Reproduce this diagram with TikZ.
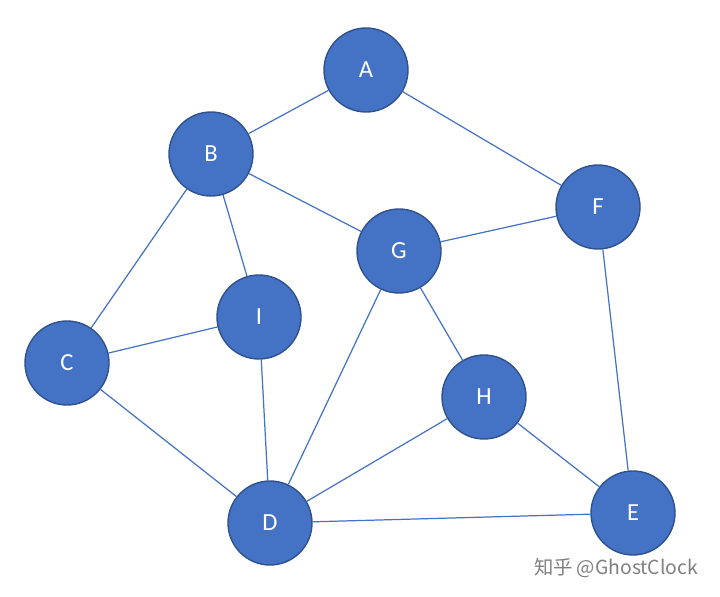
\documentclass[tikz,border=0pt]{standalone}
\usepackage{fontspec}
\setmainfont{Carlito}
\newfontfamily\cjk{Noto Sans CJK SC}
\definecolor{nodeblue}{HTML}{4472C4}
\definecolor{rimblue}{HTML}{2F528F}

\begin{document}
\begin{tikzpicture}[x=0.02cm, y=-0.02cm,
  vertex/.style={circle, fill=nodeblue, draw=rimblue, line width=0.8pt,
    minimum size=1.68cm, inner sep=0pt, text=white, font=\fontsize{14}{14}\selectfont},
  edge/.style={draw=nodeblue, line width=0.7pt}]
  \useasboundingbox (0,0) rectangle (720,597);
  \node[vertex] (A) at (366,70) {A};
  \node[vertex] (B) at (211,154) {B};
  \node[vertex] (F) at (598,207) {F};
  \node[vertex] (G) at (399,251) {G};
  \node[vertex] (I) at (259,317) {I};
  \node[vertex] (C) at (67,363) {C};
  \node[vertex] (H) at (484,397) {H};
  \node[vertex] (D) at (270,523) {D};
  \node[vertex] (E) at (633,513) {E};
  \foreach \u/\v in {A/B, A/F, B/G, B/I, B/C, C/I, C/D, I/D, G/D, G/F, G/H, H/D, H/E, F/E, D/E}
    \draw[edge] (\u) -- (\v);
  \node[text=gray, font=\cjk\fontsize{11}{11}\selectfont] (mark) at (616,568) {知乎 @GhostClock};
\end{tikzpicture}
\end{document}
